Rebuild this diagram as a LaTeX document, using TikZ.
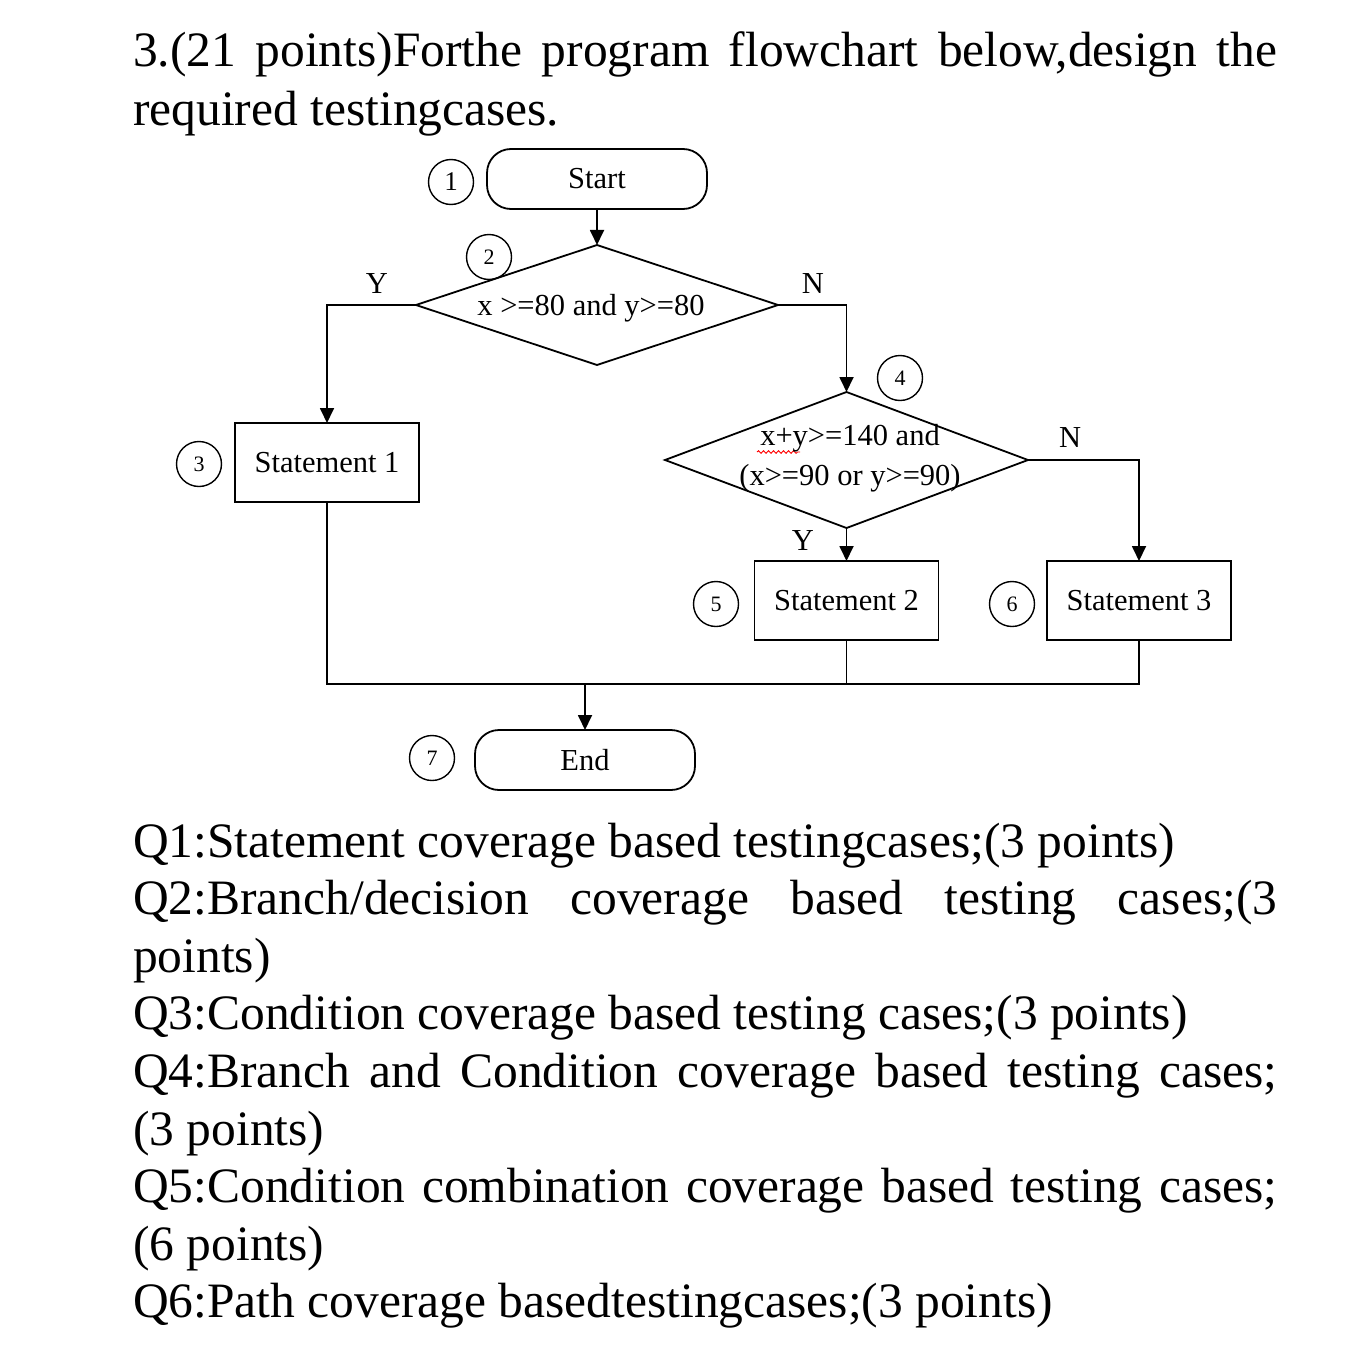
\documentclass[tikz,border=0pt]{standalone}
\usepackage{fontspec}
\setmainfont{Liberation Serif}
\usepackage{tikz}
\usetikzlibrary{shapes.geometric,arrows.meta,decorations.pathmorphing}
\pgfdeclarelayer{edgelayer}
\pgfdeclarelayer{nodelayer}
\pgfsetlayers{edgelayer,nodelayer,main}
\tikzstyle{terminal}=[rectangle, rounded corners=24, draw=black, line width=1.8, minimum width=220, minimum height=60, outer sep=0, font=\fontsize{30.5}{36}\selectfont]
\tikzstyle{statement}=[rectangle, draw=black, line width=1.8, minimum width=184, minimum height=79, outer sep=0, font=\fontsize{30.5}{36}\selectfont]
\tikzstyle{decision}=[diamond, draw=black, line width=1.8, inner sep=0, outer sep=0]
\tikzstyle{number}=[circle, draw=black, line width=1.4, minimum size=45, inner sep=0, font=\fontsize{22}{24}\selectfont]
\tikzstyle{cond}=[anchor=base, inner sep=0, font=\fontsize{30.5}{36}\selectfont]
\tikzstyle{para}=[anchor=base west, inner sep=0, font=\fontsize{49.5}{57}\selectfont]
\tikzstyle{flow}=[-{Triangle[length=15,width=14]}, draw=black, line width=1.8]
\tikzstyle{line}=[-, draw=black, line width=1.8]

\begin{document}
\begin{tikzpicture}[x=1pt, y=-1pt]
            \useasboundingbox (0, 0) rectangle (1370, 1370);
            \begin{pgfonlayer}{nodelayer}
                \node [style=para] (head1) at (133, 67) {\makebox[1144pt][s]{3.(21 points)Forthe program flowchart below,design the}};
                \node [style=para] (head2) at (133, 125) {required testingcases.};

                \node [style=terminal] (start) at (597, 179) {Start};
                \node [style=number, font=\fontsize{27}{28}\selectfont] (n1) at (451, 182) {1};
                \node [style=decision, minimum width=362, minimum height=120] (d1) at (597, 305) {};
                \node [style=cond] (d1text) at (591, 315) {x >=80 and y>=80};
                \node [style=number] (n2) at (489, 257) {2};
                \node [style=cond] (Y1) at (377, 293) {Y};
                \node [style=cond] (N1) at (813, 293) {N};

                \node [style=statement] (st1) at (327, 462.5) {Statement 1};
                \node [style=number] (n3) at (199, 464) {3};

                \node [style=decision, minimum width=363, minimum height=136] (d2) at (846.5, 460) {};
                \node [style=cond] (d2text1) at (850, 445) {x+y>=140 and};
                \node [style=cond] (d2text2) at (850, 485) {(x>=90 or y>=90)};
                \node [style=number] (n4) at (900, 378) {4};
                \node [style=cond] (N2) at (1070, 447) {N};
                \node [style=cond] (Y2) at (803, 550) {Y};

                \node [style=statement] (st2) at (846.5, 600.5) {Statement 2};
                \node [style=number] (n5) at (716, 604) {5};
                \node [style=statement] (st3) at (1139, 600.5) {Statement 3};
                \node [style=number] (n6) at (1012, 604) {6};

                \node [style=terminal] (end) at (585, 760) {End};
                \node [style=number] (n7) at (432, 758) {7};

                \node [style=para] (q1) at (133, 857) {Q1:Statement coverage based testingcases;(3 points)};
                \node [style=para] (q2a) at (133, 914.6) {\makebox[1144pt][s]{Q2:Branch/decision coverage based testing cases;(3}};
                \node [style=para] (q2b) at (133, 972.2) {points)};
                \node [style=para] (q3) at (133, 1029.8) {Q3:Condition coverage based testing cases;(3 points)};
                \node [style=para] (q4a) at (133, 1087.4) {\makebox[1144pt][s]{Q4:Branch and Condition coverage based testing cases;}};
                \node [style=para] (q4b) at (133, 1145) {(3 points)};
                \node [style=para] (q5a) at (133, 1202.6) {\makebox[1144pt][s]{Q5:Condition combination coverage based testing cases;}};
                \node [style=para] (q5b) at (133, 1260.2) {(6 points)};
                \node [style=para] (q6) at (133, 1317.8) {Q6:Path coverage basedtestingcases;(3 points)};
            \end{pgfonlayer}
            \begin{pgfonlayer}{edgelayer}
                \coordinate (mL) at (327, 684);
                \coordinate (mR) at (1139, 684);
                \coordinate (mE) at (585, 684);

                \draw [style=flow] (start) to (d1);
                \draw [style=flow] (d1.west) -| (st1.north);
                \draw [style=flow] (d1.east) -| (d2.north);
                \draw [style=flow] (d2.south) to (st2.north);
                \draw [style=flow] (d2.east) -| (st3.north);
                \draw [style=line] (st1.south) -- (mL) -- (mR) -- (st3.south);
                \draw [style=line] (st2.south) -- (st2.south |- mL);
                \draw [style=flow] (mE) to (end.north);

                \draw [red, line width=0.9, decorate, decoration={snake, amplitude=1.3, segment length=5}] (757, 452) -- (800, 452);
            \end{pgfonlayer}
        \end{tikzpicture}
\end{document}
